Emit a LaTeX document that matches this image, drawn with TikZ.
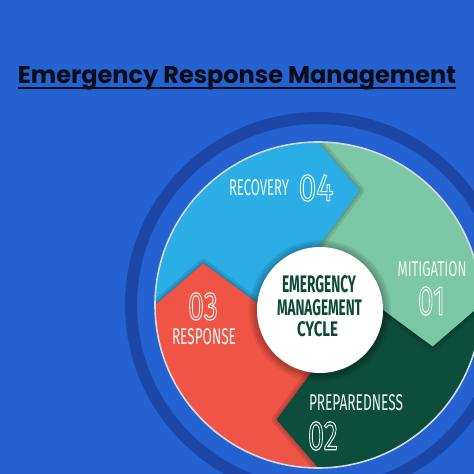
\documentclass[tikz,border=0pt]{standalone}
\usepackage{fontspec}
\usepackage{graphicx}
\newfontfamily\titlefont{Poppins}
\newfontfamily\labfont{Fira Sans}
\definecolor{bg}{HTML}{2461D1}
\definecolor{ringdark}{HTML}{1C47A6}
\definecolor{recov}{HTML}{2BAEE6}
\definecolor{mitig}{HTML}{7CC7A5}
\definecolor{prep}{HTML}{0C4E3B}
\definecolor{resp}{HTML}{F05446}
\definecolor{centertxt}{HTML}{0D4A38}
\definecolor{labtxt}{HTML}{EEF7F4}
\definecolor{titletxt}{HTML}{0A0C18}
\definecolor{rim}{HTML}{D3D9DF}
\newcommand\fitbox[3]{\resizebox{#1pt}{#2pt}{#3}}
\newcommand\outnum[1]{{\labfont\fontsize{38}{38}\selectfont\color{labtxt}\special{pdf:literal direct q 1 Tr 1.1 w}#1\special{pdf:literal direct Q}}}
\newcommand\segpath[1]{(0,0) -- (#1:\ri pt) -- (#1-20:\rt pt) -- (#1:\R pt) arc[start angle=#1, end angle=#1+90, radius=\R pt] -- (#1+70:\rt pt) -- (#1+90:\ri pt) -- cycle}
\def\R{163}\def\rt{122}\def\ri{58}
\tikzset{
  lab/.style={inner sep=0pt, text=labtxt, font=\labfont},
  ctr/.style={inner sep=0pt, text=centertxt, font=\labfont\bfseries},
}
\begin{document}
\begin{tikzpicture}[x=1pt,y=1pt]
\useasboundingbox (0,0) rectangle (474,474);
\fill[bg] (0,0) rectangle (474,474);
\clip (0,0) rectangle (474,474);
\coordinate (C) at (318,169);
% outer ring
\fill[ringdark, even odd rule] (C) circle[radius=193pt] (C) circle[radius=181pt];
% segments
\begin{scope}[shift={(C)}]
  \foreach \a/\col in {90/recov, 0/mitig, -90/prep, 180/resp}{
    \fill[\col] \segpath{\a};
  }
  % soft shadows of the arrow tips
  \foreach \a in {90, 0, -90, 180}{
    \begin{scope}
      \clip \segpath{\a-90};
      \draw[black, opacity=0.10, line width=9pt, line join=round] (\a:\ri pt) -- (\a-20:\rt pt) -- (\a:\R pt);
      \draw[black, opacity=0.10, line width=4pt, line join=round] (\a:\ri pt) -- (\a-20:\rt pt) -- (\a:\R pt);
    \end{scope}
  }
  \draw[rim, line width=1.6pt] (0,0) circle[radius=\R pt];
\end{scope}
% hub with soft shadow
\foreach \r in {71,69,67,65}{
  \fill[black, opacity=0.07] (320,163) circle[radius=\r pt];
}
\node[circle, fill=white, minimum size=126pt, inner sep=0pt] (hub) at (320,164) {};
\node[ctr] (c1) at (319,190) {\fitbox{74}{17}{EMERGENCY}};
\node[ctr] (c2) at (319.5,166) {\fitbox{85}{16}{MANAGEMENT}};
\node[ctr] (c3) at (317.5,144.5) {\fitbox{41}{15}{CYCLE}};
% labels
\node[lab] (lrec) at (259,286) {\fitbox{60}{16}{RECOVERY}};
\node[inner sep=0pt] (n04) at (316,286) {\fitbox{35}{26}{\outnum{04}}};
\node[lab] (lmit) at (432,204.5) {\fitbox{69}{15}{MITIGATION}};
\node[inner sep=0pt] (n01) at (431.5,173) {\fitbox{27}{28}{\outnum{01}}};
\node[inner sep=0pt] (n03) at (203,167.5) {\fitbox{30}{27}{\outnum{03}}};
\node[lab] (lres) at (204,137) {\fitbox{64}{16}{RESPONSE}};
\node[lab] (lpre) at (356,71) {\fitbox{94}{16}{PREPAREDNESS}};
\node[inner sep=0pt] (n02) at (323,38) {\fitbox{30}{28}{\outnum{02}}};
% title
\node[anchor=base, inner sep=0pt] (title) at (237,390) {\fitbox{438}{17}{\titlefont\bfseries\color{titletxt}Emergency Response Management}};
\draw[titletxt, line width=1.8pt] ([yshift=-4pt]title.base west) -- ([yshift=-4pt]title.base east);
\end{tikzpicture}
\end{document}
